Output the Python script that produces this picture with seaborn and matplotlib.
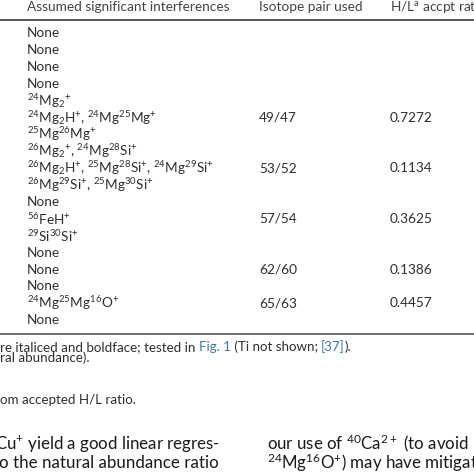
import matplotlib
matplotlib.use("Agg")
import matplotlib.pyplot as plt
import seaborn as sns

sns.set_theme(style="white")
plt.rcParams['font.family'] = ['Lato', 'DejaVu Sans']
plt.rcParams['mathtext.default'] = 'regular'

headers = ["Assumed significant interferences", "Isotope pair used", "H/L$^{a}$ accpt ratio"]
interferences = ["None", "None", "None", "None",
                 r"$^{24}$Mg$_2$$^{+}$",
                 r"$^{24}$Mg$_2$H$^{+}$, $^{24}$Mg$^{25}$Mg$^{+}$",
                 r"$^{25}$Mg$^{26}$Mg$^{+}$",
                 r"$^{26}$Mg$_2$$^{+}$, $^{24}$Mg$^{28}$Si$^{+}$",
                 r"$^{26}$Mg$_2$H$^{+}$, $^{25}$Mg$^{28}$Si$^{+}$, $^{24}$Mg$^{29}$Si$^{+}$",
                 r"$^{26}$Mg$^{29}$Si$^{+}$, $^{25}$Mg$^{30}$Si$^{+}$",
                 "None", r"$^{56}$FeH$^{+}$", r"$^{29}$Si$^{30}$Si$^{+}$",
                 "None", "None", "None",
                 r"$^{24}$Mg$^{25}$Mg$^{16}$O$^{+}$", "None"]
pairs = ["", "", "", "", "", "49/47", "", "", "53/52", "", "", "57/54", "", "", "62/60", "", "65/63", ""]
ratios = ["", "", "", "", "", "0.7272", "", "", "0.1134", "", "", "0.3625", "", "", "0.1386", "", "0.4457", ""]

fig = plt.figure(figsize=(4.74, 4.74), dpi=100)
ax = fig.add_axes([0, 0, 1, 1])
ax.set_xlim(0, 474)
ax.set_ylim(474, 0)
ax.axis("off")

tc = "#2e2e2e"
fs = 9.8
for x, h in zip([27, 259, 390], headers):
    ax.text(x, 7, h, fontsize=fs, color="#444444", va="center")
ax.plot([0, 474], [20, 20], color="#555555", lw=1.4)
for i, (a, p, r) in enumerate(zip(interferences, pairs, ratios)):
    y = 33 + i * 16.9
    ax.text(27, y, a, fontsize=fs, color=tc, va="center")
    if p:
        ax.text(259, y, p, fontsize=fs, color=tc, va="center")
    if r:
        ax.text(390, y, r, fontsize=fs, color=tc, va="center")
ax.plot([0, 474], [334, 334], color="#555555", lw=1.2)

link = "#3a78a8"
fn = 9.6
renderer = fig.canvas.get_renderer()
segs = [("re italiced and boldface; tested in ", tc), ("Fig. 1", link), (" (Ti not shown; ", tc),
        ("[37]", link), (").", tc)]
t = ax.text(0, 347, segs[0][0], fontsize=fn, color=segs[0][1], va="center")
for s, c in segs[1:]:
    t = ax.annotate(s, xy=(1, 0.5), xycoords=t, xytext=(0, 0), textcoords="offset points",
                    va="center", ha="left", fontsize=fn, color=c)
ax.text(0, 358, "ral abundance).", fontsize=fn, color=tc, va="center")
ax.text(0, 400, "om accepted H/L ratio.", fontsize=fn, color=tc, va="center")

bf = 12.2
ax.text(-5, 443, r"Cu$^{+}$ yield a good linear regres-", fontsize=bf, color="#1a1a1a", va="center")
ax.text(-1, 463, "o the natural abundance ratio", fontsize=bf, color="#1a1a1a", va="center")
ax.text(267, 443, r"our use of $^{40}$Ca$^{2+}$ (to avoid", fontsize=bf, color="#1a1a1a", va="center")
ax.text(267, 463, r"$^{24}$Mg$^{16}$O$^{+}$) may have mitigat", fontsize=bf, color="#1a1a1a", va="center")

fig.savefig("out.png", dpi=100)
